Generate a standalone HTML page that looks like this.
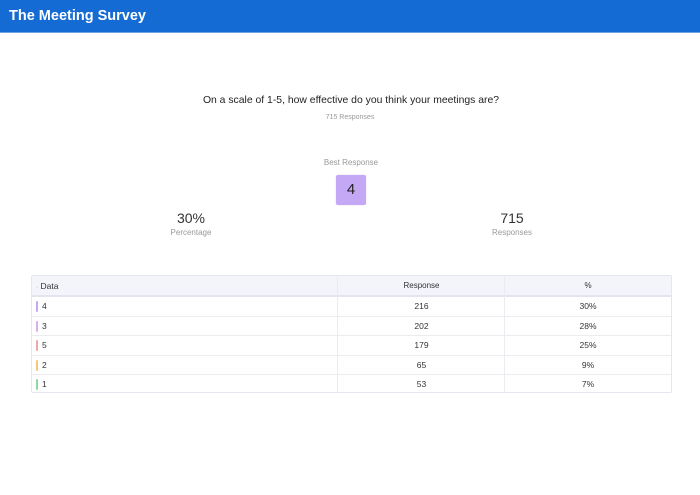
<!DOCTYPE html>
<html><head><style>
*{margin:0;padding:0;box-sizing:border-box}
body{width:700px;height:495px;background:#fff;font-family:"Liberation Sans",sans-serif;position:relative;overflow:hidden;color:#222}
.hdr{position:absolute;left:0;top:0;width:700px;height:33px;background:#146bd3;border-bottom:1px solid #6fa3e6}
.hdr span{position:absolute;left:9px;top:8px;color:#fff;font-weight:bold;font-size:14.5px}
.a{position:absolute;text-align:center;white-space:nowrap}
.tbl{position:absolute;left:31px;top:275px;width:641px;height:118px;border:1px solid #e6e6ee;border-radius:2px}
.row{position:absolute;left:0;width:639px;height:19.5px;border-bottom:1px solid #ececf0;font-size:8.5px;color:#333}
.row div{position:absolute;top:4px}
.bar{position:absolute;left:4px;top:4px;width:2px;height:11px;border-radius:1px}
.vl{position:absolute;top:0;width:1px;height:116px;background:#ececf0}
</style></head><body>
<div class="hdr"><span>The Meeting Survey</span></div>
<div class="a" style="left:0;width:702px;top:95px;font-size:10.4px;color:#222">On a scale of 1-5, how effective do you think your meetings are?</div>
<div class="a" style="left:0;width:700px;top:114px;font-size:7px;color:#999">715 Responses</div>
<div class="a" style="left:0;width:702px;top:158px;font-size:8px;color:#999">Best Response</div>
<div style="position:absolute;left:336px;top:175px;width:30px;height:30px;background:#c5a8f5;border-radius:2px;box-shadow:0 0 2px #e6dcf8;text-align:center;line-height:30px;font-size:15px;color:#222">4</div>
<div class="a" style="left:141px;width:100px;top:210px;font-size:14px;color:#333">30%</div>
<div class="a" style="left:141px;width:100px;top:228px;font-size:8px;color:#999">Percentage</div>
<div class="a" style="left:462px;width:100px;top:210px;font-size:14px;color:#333">715</div>
<div class="a" style="left:462px;width:100px;top:228px;font-size:8px;color:#999">Responses</div>
<div class="tbl">
 <div style="position:absolute;left:0;top:0;width:639px;height:21px;background:#f4f4fb;border-bottom:2px solid #e4e4ee"></div>
 <div style="position:absolute;left:4px;top:5px;font-size:8.5px;color:#333"><span style="color:#bbb;font-size:6px">◦</span> Data</div>
 <div style="position:absolute;left:306px;width:167px;top:5px;text-align:center;font-size:8px;color:#333">Response</div>
 <div style="position:absolute;left:473px;width:166px;top:5px;text-align:center;font-size:8px;color:#333">%</div>
 <div class="row" style="top:21px"><span class="bar" style="background:#c5a8f5"></span><div style="left:10px">4</div><div style="left:306px;width:167px;text-align:center">216</div><div style="left:473px;width:166px;text-align:center">30%</div></div>
 <div class="row" style="top:40.5px"><span class="bar" style="background:#dcaee8"></span><div style="left:10px">3</div><div style="left:306px;width:167px;text-align:center">202</div><div style="left:473px;width:166px;text-align:center">28%</div></div>
 <div class="row" style="top:60px"><span class="bar" style="background:#f0a8a8"></span><div style="left:10px">5</div><div style="left:306px;width:167px;text-align:center">179</div><div style="left:473px;width:166px;text-align:center">25%</div></div>
 <div class="row" style="top:79.5px"><span class="bar" style="background:#f5c874"></span><div style="left:10px">2</div><div style="left:306px;width:167px;text-align:center">65</div><div style="left:473px;width:166px;text-align:center">9%</div></div>
 <div class="row" style="top:99px;border-bottom:none"><span class="bar" style="background:#8fd6a0"></span><div style="left:10px">1</div><div style="left:306px;width:167px;text-align:center">53</div><div style="left:473px;width:166px;text-align:center">7%</div></div>
 <div class="vl" style="left:305px"></div>
 <div class="vl" style="left:472px"></div>
</div>
</body></html>
